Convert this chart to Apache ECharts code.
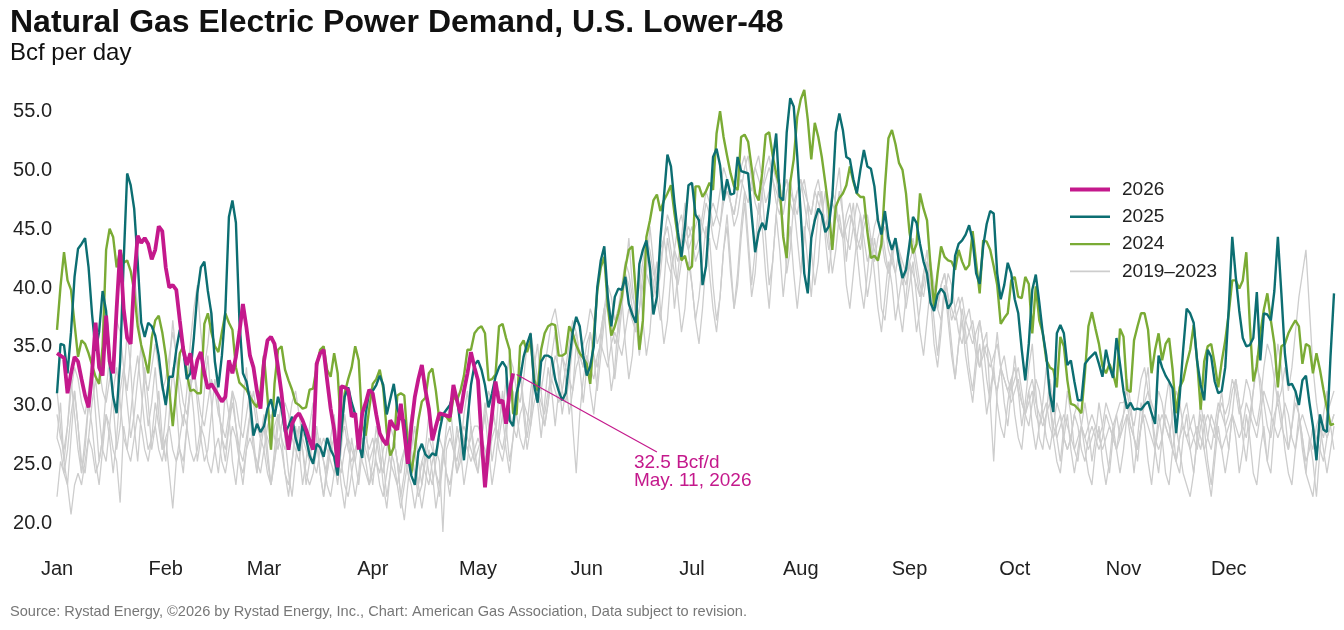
<!DOCTYPE html>
<html>
<head>
<meta charset="utf-8">
<script src="https://cdn.jsdelivr.net/npm/echarts@6/dist/echarts.min.js"></script>
<style>
  html, body { margin: 0; padding: 0; background: #fff; }
  #chart { width: 1344px; height: 630px; }
</style>
</head>
<body>
<div id="chart"></div>
<script>
// month ticks
const monthNames = ['Jan','Feb','Mar','Apr','May','Jun','Jul','Aug','Sep','Oct','Nov','Dec'];
const monthDays = [31,28,31,30,31,30,31,31,30,31,30,31];

// daily demand, Bcf/d
const y2026 = [
  34.2,34.0,33.8,30.8,32.5,33.9,33.5,32.0,30.6,29.6,
  32.5,36.8,33.0,32.3,37.4,33.5,32.5,38.0,43.0,38.0,
  35.5,35.0,40.5,44.2,43.6,44.0,43.5,42.2,43.0,45.0,
  44.6,41.5,39.8,40.0,39.6,37.0,34.5,33.2,34.2,32.0,
  33.6,34.3,32.5,31.2,31.6,31.1,30.6,30.1,30.5,33.6,
  32.5,33.9,36.0,38.4,36.4,34.0,33.0,31.0,29.5,33.5,
  35.3,35.6,35.0,33.0,30.8,28.0,26.0,28.2,28.8,29.1,
  28.5,27.7,26.8,26.0,33.3,34.2,34.5,31.9,29.5,27.7,
  24.5,31.4,31.3,31.1,28.8,29.1,26.0,29.1,30.0,31.1,
  30.8,29.0,27.4,26.8,26.4,28.5,28.0,27.7,29.9,27.5,
  24.8,28.0,30.5,32.0,33.2,31.1,29.5,26.8,28.0,29.1,
  29.0,28.9,28.8,31.5,30.2,29.1,31.0,32.5,34.3,33.0,
  31.9,27.0,22.8,26.2,29.0,31.8,30.0,30.2,28.2,31.0,
  32.5
];

const y2025 = [
  30.8,35.0,34.9,32.5,36.0,40.7,43.1,43.5,44.0,41.5,
  37.5,34.4,36.0,39.5,37.8,33.5,30.5,29.1,33.5,42.0,
  49.5,48.5,46.5,42.0,36.8,35.6,36.8,36.5,35.7,34.0,
  31.5,29.8,32.2,32.2,34.5,36.2,34.5,32.0,32.5,35.5,
  39.3,41.5,42.0,39.5,37.6,33.5,31.3,34.0,37.9,45.8,
  47.2,45.3,37.0,32.5,31.8,30.2,27.2,28.2,27.5,28.0,
  29.5,30.3,28.8,30.5,29.5,27.5,28.0,28.8,27.0,25.9,
  28.2,27.0,25.5,24.8,26.5,26.2,25.4,27.0,26.0,25.4,
  23.8,27.5,30.5,31.3,30.0,29.0,26.5,25.3,29.0,31.0,
  31.0,31.5,32.3,31.5,29.0,30.3,31.6,29.5,28.6,28.5,
  25.5,23.8,23.0,25.8,26.5,25.6,25.3,25.7,25.5,27.5,
  29.0,29.4,29.8,30.8,30.5,28.0,25.1,28.5,31.5,33.2,
  33.6,32.8,31.5,29.6,30.8,32.2,33.0,33.5,33.0,28.5,
  28.0,30.8,32.0,33.9,35.0,35.9,31.5,30.0,33.5,34.0,
  34.0,33.8,32.0,31.0,30.2,30.8,33.5,36.0,37.3,36.5,
  34.0,32.3,33.1,34.8,39.8,42.1,43.3,39.0,36.5,39.0,
  39.7,39.6,40.7,38.4,37.5,36.8,41.8,43.0,43.8,41.5,
  37.5,39.0,44.0,47.5,51.1,50.1,47.0,44.5,42.4,45.0,
  48.5,48.7,46.0,45.5,40.0,41.6,46.0,50.9,51.6,50.2,
  47.2,49.0,47.7,47.8,50.9,49.7,49.6,49.5,46.0,42.8,
  44.5,45.3,44.7,47.0,50.5,52.9,47.5,47.2,53.0,55.9,
  55.2,51.0,46.0,41.0,39.3,44.0,45.5,46.5,46.0,44.5,
  45.0,47.5,53.0,54.6,53.2,50.9,50.7,49.0,47.8,49.8,
  51.5,50.1,49.9,48.4,45.5,44.3,46.3,44.0,43.0,44.0,
  42.0,40.6,41.3,43.5,45.8,45.3,43.5,42.0,41.0,38.5,
  37.8,39.2,39.7,39.3,38.0,38.5,42.5,43.5,43.8,44.3,
  45.1,43.8,41.0,40.1,43.3,45.2,46.3,46.1,41.0,38.8,
  40.0,41.9,41.0,38.8,37.6,34.5,31.9,35.0,39.6,40.9,
  38.5,35.9,34.0,30.8,29.2,35.9,36.6,35.9,33.2,33.6,
  31.8,30.2,30.2,33.3,33.7,34.0,34.3,33.3,32.2,34.5,
  33.1,32.1,35.5,33.3,31.0,29.5,30.0,29.4,29.5,29.4,
  29.8,30.1,29.1,28.2,34.0,33.0,32.3,31.8,31.2,27.4,
  30.5,34.5,38.0,37.6,36.8,33.5,31.5,30.2,34.5,33.9,
  31.8,30.8,31.0,33.0,38.0,44.1,40.7,37.8,35.5,34.8,
  34.9,35.5,39.4,33.6,37.6,37.5,37.0,39.5,44.1,39.3,
  34.2,31.5,31.6,31.0,29.8,31.9,32.3,30.0,28.0,25.1,
  29.0,27.7,27.5,33.9,39.3
];

const y2024 = [
  36.2,39.9,42.8,40.4,39.6,36.7,33.9,35.3,35.0,34.2,
  33.2,32.2,31.6,34.8,43.0,44.8,44.1,41.5,43.0,41.9,
  42.1,41.2,39.5,36.5,34.9,33.8,32.5,35.5,37.0,37.4,
  36.0,34.0,31.1,28.0,31.1,34.2,34.8,32.5,31.0,31.1,
  30.8,30.8,36.7,37.6,36.0,34.8,34.3,36.0,37.6,36.8,
  36.2,33.0,31.7,31.4,31.1,30.5,30.0,29.6,31.0,34.0,
  30.5,26.0,31.6,34.5,34.8,32.8,31.9,31.1,30.0,29.8,
  29.5,29.6,31.1,31.2,33.0,34.5,34.8,32.8,32.2,34.2,
  32.5,27.5,30.8,32.0,33.0,34.8,33.6,28.0,27.2,29.5,
  31.6,32.0,32.8,31.2,27.5,25.5,26.2,30.6,30.8,30.6,
  26.5,24.0,26.0,28.5,30.1,30.4,32.5,32.9,31.0,28.5,
  29.0,28.8,28.4,30.5,30.2,31.0,32.3,34.5,34.5,35.9,
  36.3,36.5,35.9,31.9,32.0,32.4,36.5,36.7,35.5,34.5,
  29.1,29.0,34.8,35.3,34.3,35.3,32.0,31.0,34.5,35.9,
  36.5,36.7,36.6,34.0,34.0,34.2,36.5,35.9,34.9,34.2,
  33.8,33.3,31.6,35.6,39.5,41.5,42.4,38.2,35.7,36.5,
  37.6,39.0,41.5,43.0,43.3,39.3,34.5,37.0,44.1,45.5,
  47.2,47.7,46.3,47.2,47.8,48.5,46.1,44.0,42.1,42.5,
  41.3,41.6,48.4,48.4,47.5,48.0,48.7,48.1,52.9,54.8,
  52.6,51.0,49.5,48.4,48.1,52.6,52.8,52.2,50.0,47.8,
  47.2,49.5,52.8,53.0,51.0,49.5,48.4,44.1,42.3,48.7,
  50.7,54.3,55.8,56.6,54.1,50.7,53.8,52.6,50.9,48.7,
  46.4,43.0,46.7,47.4,47.8,48.5,50.1,48.8,47.8,47.5,
  47.5,44.5,42.3,42.5,42.1,43.5,48.4,52.5,53.2,52.0,
  50.4,49.8,47.8,44.5,42.7,43.5,47.8,46.5,45.5,41.6,
  38.2,41.0,43.3,42.4,42.1,42.0,41.3,43.0,42.0,41.3,
  41.7,44.6,41.9,39.3,43.8,43.7,43.0,41.6,40.0,36.7,
  37.2,37.6,40.4,40.7,39.0,38.9,40.7,40.1,35.9,39.9,
  37.0,35.9,33.6,33.0,32.8,31.3,35.6,34.8,31.9,29.9,
  29.8,29.5,29.1,32.5,36.5,37.7,36.3,35.0,33.1,32.5,
  33.3,32.5,31.3,36.3,35.6,31.1,30.9,35.3,36.5,37.6,
  37.6,36.2,32.5,34.5,35.9,33.6,35.0,35.5,32.8,29.1,
  31.3,31.9,33.3,34.5,36.6,33.5,29.4,33.5,34.8,35.0,
  33.3,31.3,33.5,35.3,37.6,40.4,40.4,39.7,40.4,42.8,
  36.7,31.8,33.1,35.9,37.9,39.3,37.0,35.0,31.3,34.8,
  35.0,35.9,36.5,37.0,36.5,33.3,35.0,34.8,32.5,34.2,
  32.8,31.1,29.5,28.1,28.2
];

// 2019-2023, one row per month
const g2019 = [
  27,30,25,23,27,31,28,24,26,30,33,29,25,27,31,34,30,26,28,32,36,33,28,25,29,33,30,26,28,31,27,
  25,29,33,30,26,24,28,32,29,25,27,31,34,30,26,24,27,31,29,25,23,26,30,33,29,26,24,27,
  29,26,23,25,28,30,27,24,22,25,28,26,23,25,29,27,24,22,24,27,29,26,23,21,24,27,25,23,26,28,25,
  23,26,28,25,22,24,27,25,22,20,23,26,28,25,23,26,29,27,24,22,25,28,30,27,24,26,29,31,28,25,
  24,27,30,28,25,27,31,29,26,24,27,31,33,30,27,29,33,35,31,28,30,34,36,32,29,31,33,28,24,29,32,
  34,31,29,32,36,38,34,31,33,37,39,35,32,34,38,41,37,34,36,40,42,38,35,37,41,43,39,36,38,42,
  40,37,35,38,42,44,40,37,39,43,46,42,38,40,44,47,43,39,41,45,48,44,40,42,46,49,45,41,43,47,44,
  41,44,47,43,40,42,46,48,44,41,43,46,44,40,38,41,44,46,42,39,41,44,42,38,37,40,43,41,38,36,39,
  42,39,36,38,41,43,39,35,33,36,40,37,34,32,35,38,36,33,31,34,37,35,32,30,33,36,33,30,28,31,
  34,31,28,30,33,35,31,27,26,29,32,30,27,25,28,31,29,26,25,28,30,28,25,27,30,28,26,24,27,29,27,
  29,32,30,27,25,28,31,33,29,26,24,27,30,32,28,25,24,27,29,26,24,27,30,28,25,23,26,29,31,28,
  26,29,32,30,27,25,28,31,34,31,27,25,28,32,35,33,29,26,28,31,29,26,24,27,25,22,26,29,31,28,26
];
const g2020 = [
  22,25,24,26,29,31,28,25,24,27,30,32,29,26,25,28,31,33,30,27,26,29,32,34,31,28,26,27,30,28,26,
  27,24,21,25,26,25,28,31,33,30,27,25,26,29,32,30,27,26,28,30,28,26,25,27,29,31,29,27,
  26,24,23,25,27,26,24,23,25,27,28,26,24,23,24,26,27,25,23,22,24,26,25,23,22,24,26,27,25,24,23,
  24,25,23,22,24,26,25,23,21,23,25,26,24,22,23,25,27,26,24,23,25,27,28,26,24,25,27,26,25,26,
  27,26,25,27,29,28,26,25,27,30,31,29,27,26,28,31,33,31,29,28,30,32,34,33,31,30,32,35,36,34,33,
  35,36,34,33,35,38,39,37,35,36,39,41,40,38,36,38,41,43,42,40,39,41,44,45,43,41,40,42,44,45,
  44,42,43,45,47,46,44,43,45,48,49,47,45,46,48,50,51,49,47,46,48,50,51,49,47,46,48,49,47,46,48,
  49,47,45,44,46,48,47,45,43,44,46,48,46,44,43,45,47,46,44,42,43,45,46,44,42,41,43,44,42,40,41,
  43,44,42,40,39,41,42,40,38,37,39,41,40,38,36,35,37,38,36,34,33,35,36,30,25,31,33,34,32,31,
  32,33,31,29,28,30,32,31,29,27,26,28,30,29,27,26,27,29,28,26,25,27,28,27,26,27,29,28,27,26,28,
  29,30,28,27,26,28,30,31,29,27,26,27,29,28,26,25,27,29,30,28,27,26,28,29,27,26,28,30,29,28,
  29,31,32,30,28,27,29,31,33,32,30,28,27,29,30,28,27,26,28,30,29,27,25,26,28,27,26,25,27,28,29
];
const g2021 = [
  31,28,25,28,32,29,26,24,27,30,28,25,23,26,29,27,24,27,31,33,30,27,29,32,35,31,28,30,33,29,26,
  29,33,37,34,30,28,31,35,38,40,36,33,35,38,34,30,27,25,28,31,28,25,23,26,29,27,24,26,
  28,25,23,26,29,27,24,22,25,28,26,23,25,28,30,27,24,22,25,27,25,23,26,29,27,24,22,24,27,25,23,
  25,28,26,23,21,24,27,25,22,24,27,29,26,23,21,23,26,24,21,23,26,24,22,25,28,26,23,25,28,26,
  24,27,29,26,23,25,28,31,28,25,27,30,33,29,26,28,32,30,27,30,33,31,28,31,34,32,29,31,35,33,30,
  33,36,34,31,34,37,39,35,32,35,38,41,44,40,37,34,37,41,45,42,39,37,40,44,42,38,41,44,47,43,
  40,37,39,42,45,41,38,36,39,43,45,41,38,41,45,48,44,40,43,47,45,41,38,42,46,43,39,42,45,41,38,
  41,45,42,39,43,46,48,44,41,44,48,50,46,42,45,47,43,40,38,41,44,41,38,36,39,42,40,37,39,41,38,
  40,42,39,36,34,37,40,37,34,37,40,38,35,32,35,37,34,32,30,33,35,32,29,31,33,30,28,27,30,32,
  29,27,26,29,31,28,26,28,30,33,30,27,25,24,27,29,26,24,26,28,26,24,23,26,28,25,23,25,28,26,24,
  26,29,27,24,27,30,28,25,23,26,29,27,24,23,26,28,26,24,23,22,24,27,29,26,24,22,25,28,26,24,
  26,29,27,24,26,29,27,24,23,26,28,25,24,28,31,29,26,24,23,26,29,27,24,23,22,25,28,26,24,26,28
];
const g2022 = [
  29,27,26,28,31,33,32,30,29,31,34,35,33,31,30,32,34,37,36,33,31,34,41,38,35,32,31,33,35,33,31,
  32,34,36,34,32,30,29,31,33,31,29,28,30,32,31,29,28,27,29,31,30,28,27,29,31,30,28,27,
  28,27,26,28,29,27,26,28,30,31,29,27,26,25,27,28,26,25,24,26,27,25,24,26,27,26,25,27,28,26,25,
  26,27,25,24,26,28,27,25,24,26,27,25,24,23,25,26,24,23,25,27,26,24,23,25,27,28,27,26,27,28,
  28,27,29,31,30,28,27,29,32,34,33,31,30,32,35,36,34,32,31,33,35,37,38,36,34,33,35,37,36,34,35,
  36,38,37,35,36,38,40,39,37,38,40,42,41,39,38,40,42,44,43,41,40,42,44,46,45,43,42,44,45,44,
  45,43,44,46,48,47,45,46,48,50,49,47,46,48,50,51,49,48,50,51,49,47,48,50,49,47,46,48,49,47,46,
  48,49,47,46,48,49,47,45,46,48,47,45,44,46,47,45,43,44,46,45,43,42,44,45,43,41,42,44,43,41,40,
  42,43,41,39,40,42,41,39,38,40,41,39,37,38,39,37,35,36,37,35,33,34,35,34,32,31,33,32,31,30,
  31,32,30,29,30,31,29,28,29,30,28,27,28,29,27,26,27,29,30,28,27,28,29,28,27,28,30,29,28,29,30,
  30,31,29,28,30,32,33,31,30,29,31,30,28,27,29,31,30,28,27,28,29,27,26,28,29,28,27,29,30,29,
  30,32,31,29,30,32,31,29,28,30,33,35,34,32,30,31,33,31,33,36,39,41,43,38,33,30,28,27,29,30,31
];
const g2023 = [
  27,26,24,23,20.5,23,24,23,25,27,26,24,25,27,29,28,26,25,21.5,28,26,25,27,29,28,26,25,27,28,26,25,
  27,28,26,25,27,29,28,26,25,26,28,27,25,24,26,27,25,24,26,28,27,25,24,26,27,26,25,24,
  26,28,29,27,26,28,30,29,27,26,25,27,28,26,25,24,26,27,26,25,24,25,27,28,26,25,26,27,28,27,26,
  27,25,24,26,27,25,24,23,25,26,24,23,21,23,25,24,23,25,26,25,19,26,27,26,25,27,28,27,26,25,
  26,27,26,25,27,28,27,26,28,29,28,27,29,30,29,28,30,31,30,29,31,32,31,30,31,33,32,31,33,34,33,
  34,33,32,34,35,34,33,35,36,35,34,36,38,37,36,38,40,41,40,39,41,43,44,42,41,43,45,46,44,43,
  44,45,46,45,44,46,47,46,45,47,48,47,46,48,49,48,47,49,50,49,48,49,50,49,48,47,48,49,48,47,48,
  49,48,47,46,48,47,46,45,46,47,46,45,44,45,46,45,44,43,45,46,44,43,42,44,45,43,42,41,43,42,41,
  42,41,40,39,41,42,40,39,38,40,41,39,38,37,38,39,37,36,35,36,37,35,34,33,34,35,33,32,31,32,
  33,31,30,29,31,32,30,29,28,29,30,28,27,28,29,28,27,26,27,28,27,26,27,28,27,26,27,28,27,26,27,
  28,29,28,27,26,28,29,28,27,26,28,29,28,27,26,25,27,28,27,26,27,28,27,26,27,29,28,27,26,27,
  28,29,28,27,28,30,29,28,27,29,31,30,29,28,27,28,30,29,27,26,28,29,28,27,26,28,29,28,27,28,29
];
const grayYears = [g2019, g2020, g2021, g2022, g2023];

// day-of-year categories
const days = [];
monthNames.forEach(function (m, i) {
  for (let d = 1; d <= monthDays[i]; d++) days.push(m + ' ' + d);
});

const FONT = 'Liberation Sans, Arial, sans-serif';
const C26 = '#c4198c', C25 = '#0c6e72', C24 = '#7aab35', CG = '#cdcdcd';

const chart = echarts.init(document.getElementById('chart'));

const series = grayYears.map(function (g) {
  return {
    name: '2019–2023', type: 'line', data: g, symbol: 'none',
    lineStyle: { color: CG, width: 1.3 }, itemStyle: { color: CG },
    z: 1, silent: true
  };
});
series.push({
  name: '2024', type: 'line', data: y2024, symbol: 'none',
  lineStyle: { color: C24, width: 2.4 }, itemStyle: { color: C24 }, z: 2
});
series.push({
  name: '2025', type: 'line', data: y2025, symbol: 'none',
  lineStyle: { color: C25, width: 2.4 }, itemStyle: { color: C25 }, z: 3
});
series.push({
  name: '2026', type: 'line', data: y2026, symbol: 'none',
  lineStyle: { color: C26, width: 3.8 }, itemStyle: { color: C26 }, z: 4,
  markLine: {
    silent: true, symbol: ['arrow', 'none'], symbolSize: [8, 0],
    label: { show: false },
    lineStyle: { color: C26, width: 1.2, type: 'solid' },
    data: [[{ coord: [days[131], 32.4] }, { coord: [days[171], 25.8] }]]
  },
  markPoint: {
    silent: true, symbol: 'circle', symbolSize: 0,
    data: [{
      coord: [days[171], 25.8],
      label: {
        show: true, position: [-23, 2], align: 'left', verticalAlign: 'top',
        formatter: '32.5 Bcf/d\nMay. 11, 2026',
        color: C26, fontSize: 19, lineHeight: 18, fontFamily: FONT
      }
    }]
  }
});

chart.setOption({
  animation: false,
  backgroundColor: '#fff',
  title: [
    { text: 'Natural Gas Electric Power Demand, U.S. Lower-48', left: 10, top: 7, padding: 0,
      textStyle: { fontSize: 32, fontWeight: 'bold', color: '#111', fontFamily: FONT } },
    { text: 'Bcf per day', left: 10, top: 41, padding: 0,
      textStyle: { fontSize: 24, fontWeight: 'normal', color: '#111', fontFamily: FONT } },
    { text: 'Source: Rystad Energy, ©2026 by Rystad Energy, Inc., Chart: American Gas Association, Data subject to revision.',
      left: 10, top: 604, padding: 0,
      textStyle: { fontSize: 14.6, fontWeight: 'normal', color: '#777', fontFamily: FONT } }
  ],
  legend: {
    data: [
      { name: '2026', icon: 'path://M0,0H40V4H0Z' },
      { name: '2025', icon: 'path://M0,0H40V2.4H0Z' },
      { name: '2024', icon: 'path://M0,0H40V2.4H0Z' },
      { name: '2019–2023', icon: 'path://M0,0H40V1.6H0Z' }
    ],
    orient: 'vertical', left: 1065, top: 175,
    itemWidth: 40, itemHeight: 14, itemGap: 8.3,
    textStyle: { fontSize: 19, color: '#222', fontFamily: FONT, padding: [0, 0, 0, 7] },
    selectedMode: false
  },
  grid: { left: 57, right: 10, top: 50, bottom: 51 },
  xAxis: {
    type: 'category', data: days, boundaryGap: false, offset: -28,
    axisLine: { show: false }, axisTick: { show: false }, splitLine: { show: false },
    axisLabel: {
      interval: function (i, v) { return / 1$/.test(v); },
      formatter: function (v) { return v.split(' ')[0]; },
      fontSize: 20, color: '#222', fontFamily: FONT, margin: 8
    }
  },
  yAxis: {
    type: 'value', min: 15, max: 60, interval: 5,
    axisLine: { show: false }, axisTick: { show: false }, splitLine: { show: false },
    axisLabel: {
      formatter: function (v) { return (v < 20 || v > 55) ? '' : '{v|' + v.toFixed(1) + '}'; },
      rich: { v: { fontSize: 20, color: '#222', fontFamily: FONT, padding: [6, 0, 0, 0] } },
      fontSize: 20, color: '#222', fontFamily: FONT, margin: 5
    }
  },
  series: series
});
</script>
</body>
</html>
